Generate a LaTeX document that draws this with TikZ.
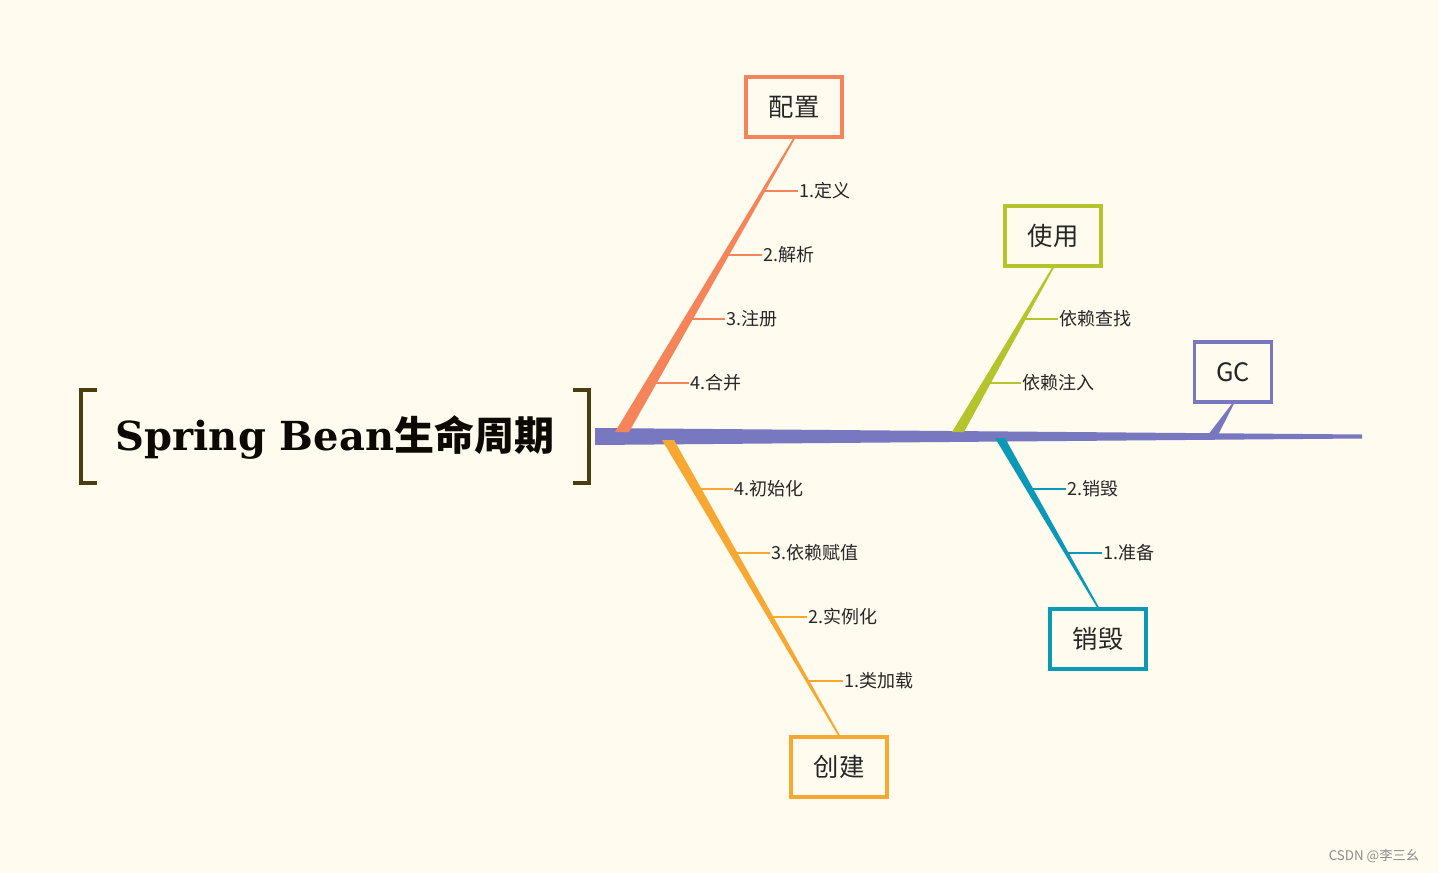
\documentclass[tikz,border=0pt]{standalone}
\usepackage{fontspec}
\setmainfont{Noto Sans CJK SC}
\newfontfamily\titlelat{DejaVu Serif}
\usetikzlibrary{calc}
\definecolor{bg}{HTML}{FFFBEE}
\definecolor{cpur}{HTML}{7878C0}
\definecolor{corg}{HTML}{F5845A}
\definecolor{cgrn}{HTML}{B5C42D}
\definecolor{cyel}{HTML}{F7A832}
\definecolor{cblu}{HTML}{0C99B8}
\definecolor{ctit}{HTML}{4A3E10}
\tikzset{
 box/.style={draw=#1,line width=2.4pt,fill=bg,minimum width=72pt,minimum height=45pt,font=\fontsize{19}{19}\selectfont,text=black!85,inner sep=0pt},
 lab/.style={anchor=west,inner sep=1pt,font=\fontsize{13.5}{14}\selectfont,text=black!85},
 tick/.style={draw=#1,line width=1.6pt}
}
\begin{document}
\begin{tikzpicture}[x=0.75pt,y=-0.75pt]
\fill[bg] (0,0) rectangle (1438,873);
\useasboundingbox (0,0) rectangle (1438,873);
% spine
\fill[cpur] (595,428) -- (1362,434.5) -- (1362,438.5) -- (595,445) -- cycle;
% title
\draw[ctit,line width=2.6pt] (97,390) -- (81,390) -- (81,483) -- (97,483);
\draw[ctit,line width=2.6pt] (573,390) -- (589,390) -- (589,483) -- (573,483);
\node[font=\fontsize{30}{30}\selectfont\bfseries,text=black!85!ctit] (title) at (335,437) {{\titlelat Spring Bean}生命周期};
% boxes
\node[box=corg] (pz) at (794,107) {配置};
\node[box=cgrn] (sy) at (1053,236) {使用};
\node[box=cpur,minimum width=58pt] (gc) at (1233,372) {GC};
\node[box=cyel] (cj) at (839,767) {创建};
\node[box=cblu] (xh) at (1098,639) {销毁};
% branches
\coordinate (a1) at (622,432); \coordinate (a2) at (958,432);
\coordinate (a3) at (668,440); \coordinate (a4) at (1000,438);
\coordinate (a5) at (1212,435);
\fill[corg] ($(a1)+(-7,0)$) -- ($(a1)+(7,0)$) -- ($(pz.south)+(1,0)$) -- ($(pz.south)+(-1,0)$) -- cycle;
\fill[cgrn] ($(a2)+(-6,0)$) -- ($(a2)+(6,0)$) -- ($(sy.south)+(1,0)$) -- ($(sy.south)+(-1,0)$) -- cycle;
\fill[cyel] ($(a3)+(-6,0)$) -- ($(a3)+(6,0)$) -- ($(cj.north)+(1,0)$) -- ($(cj.north)+(-1,0)$) -- cycle;
\fill[cblu] ($(a4)+(-5,0)$) -- ($(a4)+(5,0)$) -- ($(xh.north)+(1,0)$) -- ($(xh.north)+(-1,0)$) -- cycle;
\fill[cpur] ($(a5)+(-4,0)$) -- ($(a5)+(6,0)$) -- ($(gc.south)+(1,0)$) -- ($(gc.south)+(-1,0)$) -- cycle;
% labels and ticks
\foreach \x/\y/\lx/\t/\n in {762/191/798/1.定义/l1,725/255/762/2.解析/l2,688/319/725/3.注册/l3,650/383/689/4.合并/l4}{
 \coordinate (p\n) at (\x,\y);
 \node[lab] (\n) at (\lx,\y) {\t};
 \draw[tick=corg] (p\n) -- (\n.west);}
\foreach \x/\y/\lx/\t/\n in {1021/319/1058/依赖查找/m1,985/383/1021/依赖注入/m2}{
 \coordinate (p\n) at (\x,\y);
 \node[lab] (\n) at (\lx,\y) {\t};
 \draw[tick=cgrn] (p\n) -- (\n.west);}
\foreach \x/\y/\lx/\t/\n in {696/489/733/4.初始化/c1,733/553/770/3.依赖赋值/c2,770/617/807/2.实例化/c3,806/681/843/1.类加载/c4}{
 \coordinate (p\n) at (\x,\y);
 \node[lab] (\n) at (\lx,\y) {\t};
 \draw[tick=cyel] (p\n) -- (\n.west);}
\foreach \x/\y/\lx/\t/\n in {1029/489/1066/2.销毁/d1,1066/553/1102/1.准备/d2}{
 \coordinate (p\n) at (\x,\y);
 \node[lab] (\n) at (\lx,\y) {\t};
 \draw[tick=cblu] (p\n) -- (\n.west);}
\node[anchor=east,text=black!45,font=\fontsize{10}{10}\selectfont] (wm) at (1424,856) {CSDN @李三幺};
\end{tikzpicture}
\end{document}
